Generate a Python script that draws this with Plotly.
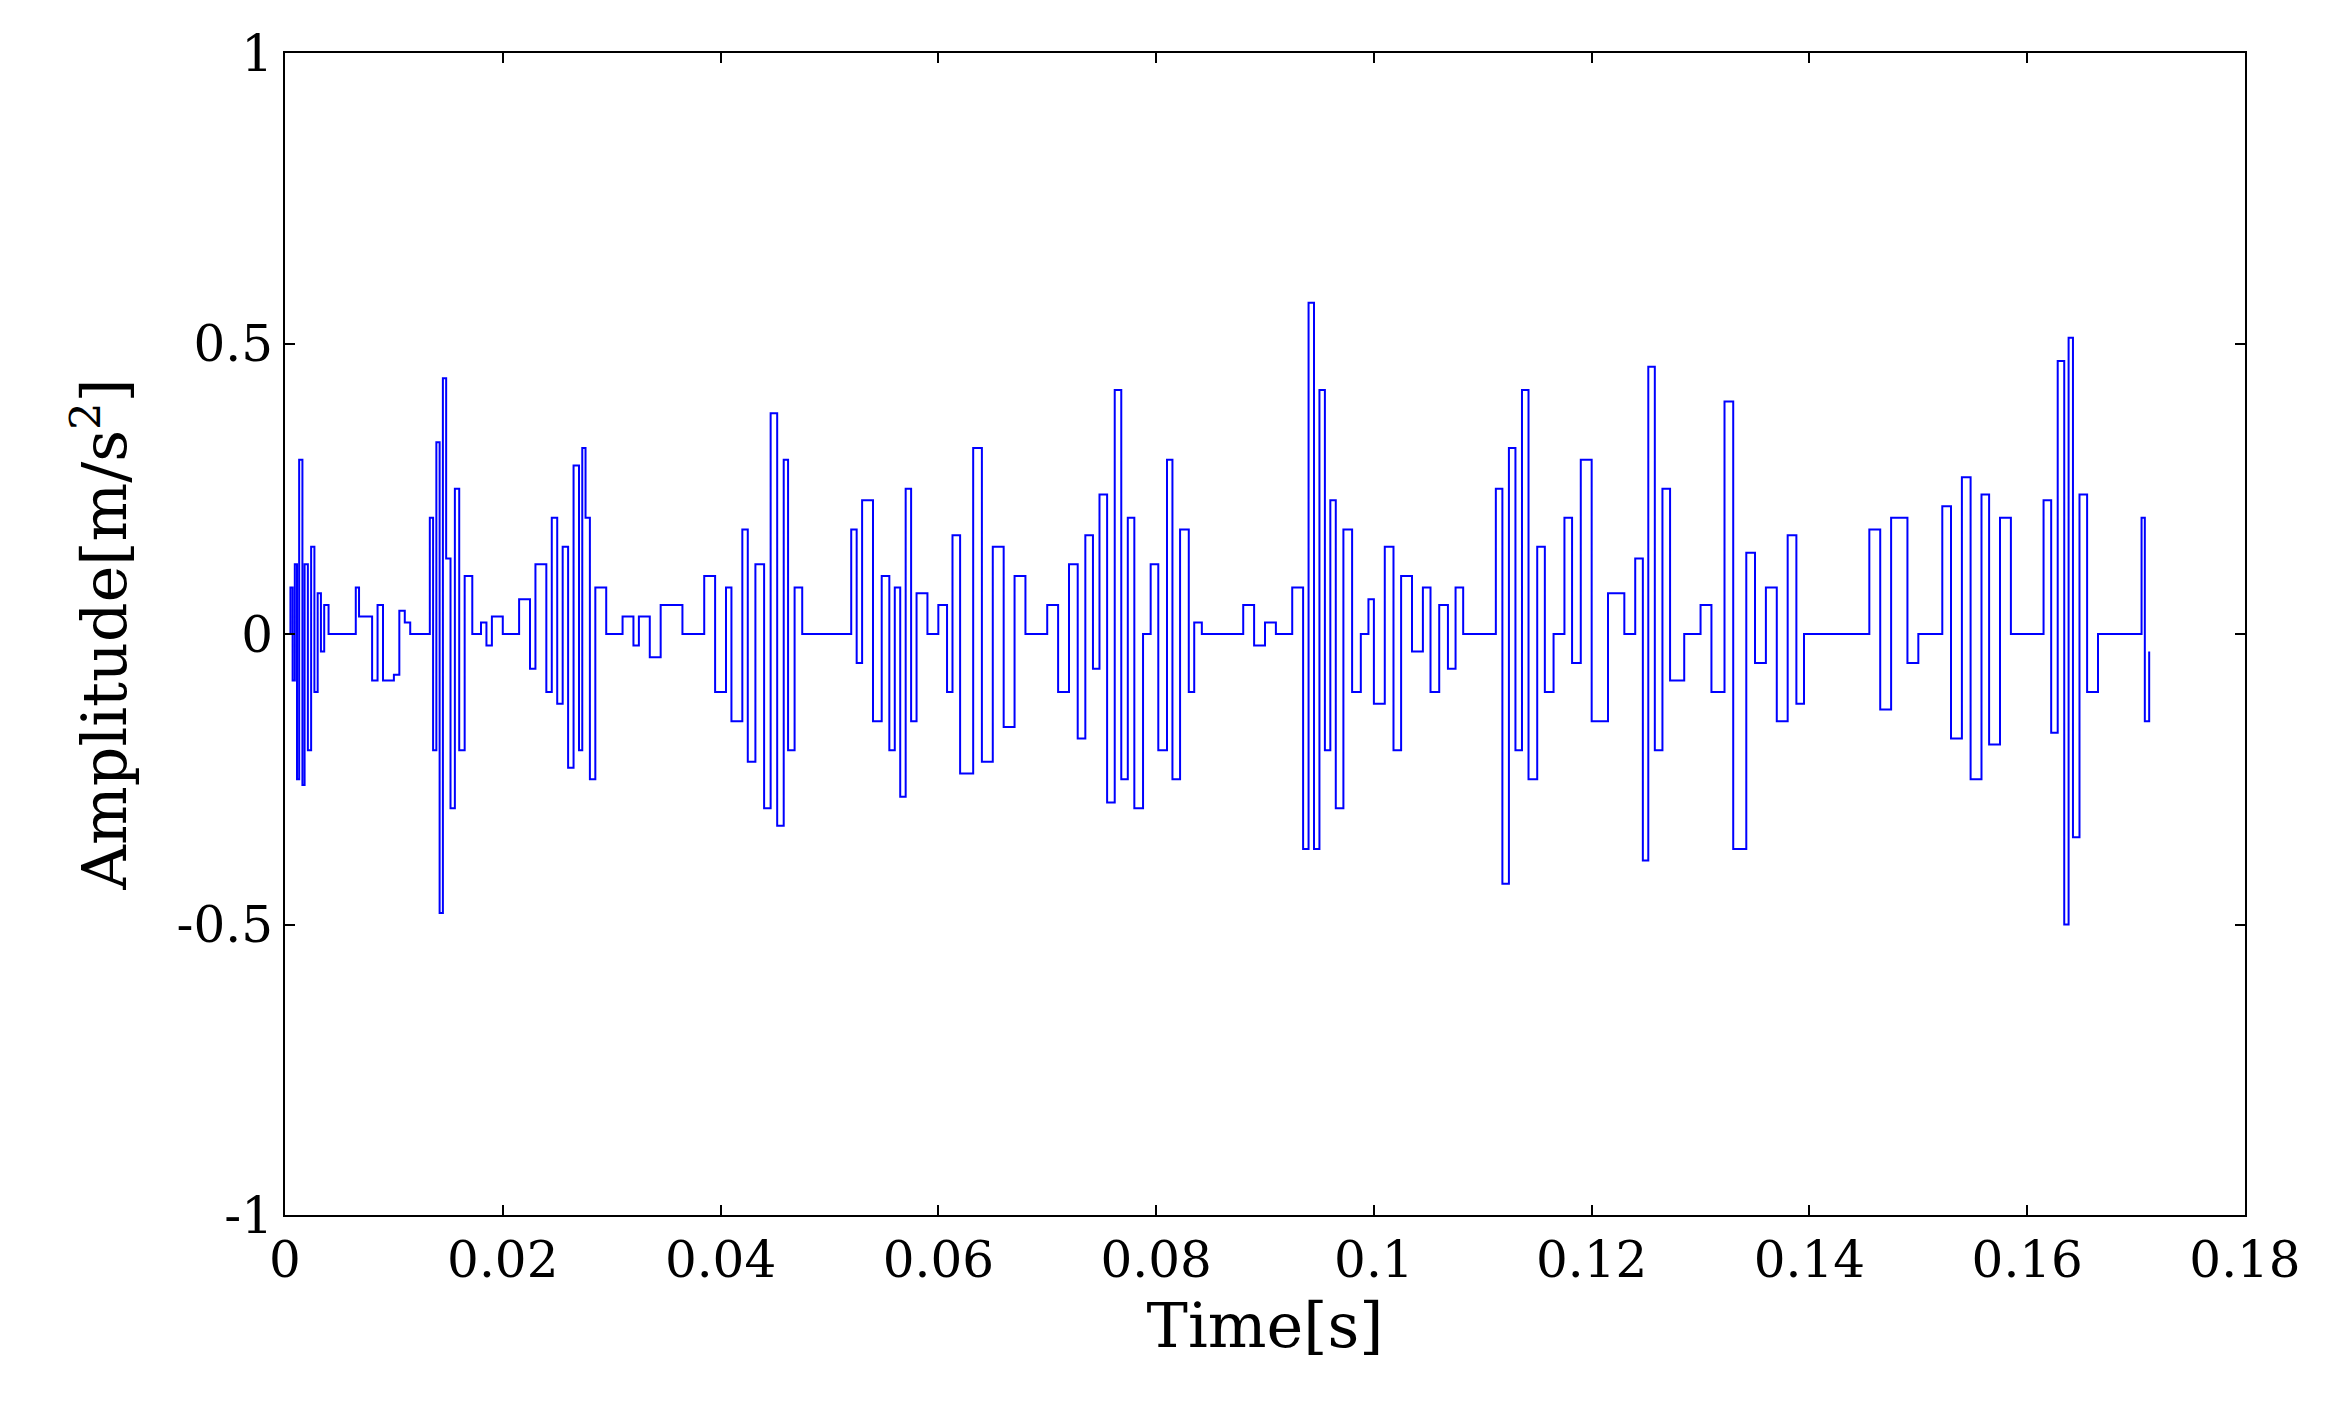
import plotly.graph_objects as go

time_s = [
    0.0000, 0.0005, 0.0007, 0.0009, 0.0011, 0.0013, 0.0016, 0.0018, 0.0021, 0.0024, 0.0027, 0.0030, 0.0033, 0.0036, 0.0040,
    0.0065, 0.0068, 0.0080, 0.0085, 0.0090, 0.0100, 0.0105, 0.0110, 0.0115,
    0.0133, 0.0136, 0.0139, 0.0142, 0.0145, 0.0148, 0.0152, 0.0156, 0.0160, 0.0165, 0.0172,
    0.0180, 0.0185, 0.0190, 0.0200,
    0.0215, 0.0225, 0.0230, 0.0240, 0.0245, 0.0250, 0.0255, 0.0260, 0.0265, 0.0270, 0.0273, 0.0276, 0.0280, 0.0285, 0.0295,
    0.0310, 0.0320, 0.0325, 0.0335, 0.0345, 0.0365,
    0.0385, 0.0395, 0.0405, 0.0410, 0.0420, 0.0425, 0.0432, 0.0440, 0.0446, 0.0452, 0.0458, 0.0462, 0.0468, 0.0475,
    0.0520, 0.0525, 0.0530, 0.0540, 0.0548, 0.0555, 0.0560, 0.0565, 0.0570, 0.0575, 0.0580, 0.0590,
    0.0600, 0.0608, 0.0613, 0.0620, 0.0632, 0.0640, 0.0650, 0.0660, 0.0670, 0.0680,
    0.0700, 0.0710, 0.0720, 0.0728, 0.0735, 0.0742, 0.0748, 0.0755, 0.0762, 0.0768, 0.0774, 0.0780, 0.0788,
    0.0795, 0.0802, 0.0810, 0.0815, 0.0822, 0.0830, 0.0835, 0.0842,
    0.0880, 0.0890, 0.0900, 0.0910,
    0.0925, 0.0935, 0.0940, 0.0945, 0.0950, 0.0955, 0.0960, 0.0965, 0.0972, 0.0980, 0.0988,
    0.0995, 0.1000, 0.1010, 0.1018, 0.1025, 0.1035, 0.1045, 0.1052, 0.1060, 0.1068, 0.1075, 0.1082,
    0.1112, 0.1118, 0.1124, 0.1130, 0.1136, 0.1142, 0.1150, 0.1157, 0.1165,
    0.1175, 0.1182, 0.1190, 0.1200, 0.1215, 0.1230,
    0.1240, 0.1247, 0.1252, 0.1258, 0.1265, 0.1272, 0.1285,
    0.1300, 0.1310, 0.1322, 0.1330, 0.1342, 0.1350, 0.1360, 0.1370, 0.1380, 0.1388, 0.1395,
    0.1455, 0.1465, 0.1475, 0.1490, 0.1500,
    0.1522, 0.1530, 0.1540, 0.1548, 0.1558, 0.1565, 0.1575, 0.1585,
    0.1615, 0.1622, 0.1628, 0.1634, 0.1638, 0.1642, 0.1648, 0.1655, 0.1665,
    0.1705, 0.1708, 0.1712,
]
amplitude = [
    0.00, 0.08, -0.08, 0.12, -0.25, 0.30, -0.26, 0.12, -0.20, 0.15, -0.10, 0.07, -0.03, 0.05, 0.00,
    0.08, 0.03, -0.08, 0.05, -0.08, -0.07, 0.04, 0.02, 0.00,
    0.20, -0.20, 0.33, -0.48, 0.44, 0.13, -0.30, 0.25, -0.20, 0.10, 0.00,
    0.02, -0.02, 0.03, 0.00,
    0.06, -0.06, 0.12, -0.10, 0.20, -0.12, 0.15, -0.23, 0.29, -0.20, 0.32, 0.20, -0.25, 0.08, 0.00,
    0.03, -0.02, 0.03, -0.04, 0.05, 0.00,
    0.10, -0.10, 0.08, -0.15, 0.18, -0.22, 0.12, -0.30, 0.38, -0.33, 0.30, -0.20, 0.08, 0.00,
    0.18, -0.05, 0.23, -0.15, 0.10, -0.20, 0.08, -0.28, 0.25, -0.15, 0.07, 0.00,
    0.05, -0.10, 0.17, -0.24, 0.32, -0.22, 0.15, -0.16, 0.10, 0.00,
    0.05, -0.10, 0.12, -0.18, 0.17, -0.06, 0.24, -0.29, 0.42, -0.25, 0.20, -0.30, 0.00,
    0.12, -0.20, 0.30, -0.25, 0.18, -0.10, 0.02, 0.00,
    0.05, -0.02, 0.02, 0.00,
    0.08, -0.37, 0.57, -0.37, 0.42, -0.20, 0.23, -0.30, 0.18, -0.10, 0.00,
    0.06, -0.12, 0.15, -0.20, 0.10, -0.03, 0.08, -0.10, 0.05, -0.06, 0.08, 0.00,
    0.25, -0.43, 0.32, -0.20, 0.42, -0.25, 0.15, -0.10, 0.00,
    0.20, -0.05, 0.30, -0.15, 0.07, 0.00,
    0.13, -0.39, 0.46, -0.20, 0.25, -0.08, 0.00,
    0.05, -0.10, 0.40, -0.37, 0.14, -0.05, 0.08, -0.15, 0.17, -0.12, 0.00,
    0.18, -0.13, 0.20, -0.05, 0.00,
    0.22, -0.18, 0.27, -0.25, 0.24, -0.19, 0.20, 0.00,
    0.23, -0.17, 0.47, -0.50, 0.51, -0.35, 0.24, -0.10, 0.00,
    0.20, -0.15, -0.03,
]

x_ticks = [0, 0.02, 0.04, 0.06, 0.08, 0.1, 0.12, 0.14, 0.16, 0.18]
x_labels = ["0", "0.02", "0.04", "0.06", "0.08", "0.1", "0.12", "0.14", "0.16", "0.18"]
y_ticks = [-1, -0.5, 0, 0.5, 1]
y_labels = ["-1", "-0.5", "0", "0.5", "1"]

fig = go.Figure()
fig.add_trace(go.Scatter(
    x=time_s, y=amplitude, mode="lines",
    line=dict(color="#0000ff", width=2, shape="hv"),
    showlegend=False,
))

axis_style = dict(
    showline=True, linecolor="black", linewidth=2, mirror="ticks",
    ticks="inside", ticklen=10, tickwidth=2, tickcolor="black",
    showgrid=False, zeroline=False,
    tickfont=dict(family="DejaVu Serif", size=50, color="black"),
)

fig.update_layout(
    width=2339, height=1423,
    paper_bgcolor="white", plot_bgcolor="white",
    margin=dict(l=277, r=102, t=45, b=216),
    font=dict(family="DejaVu Serif", size=52, color="black"),
    xaxis=dict(range=[0, 0.18], tickvals=x_ticks, ticktext=x_labels,
               title=dict(text="Time[s]", standoff=10), **axis_style),
    yaxis=dict(range=[-1, 1], tickvals=y_ticks, ticktext=y_labels,
               title=dict(text="Amplitude[m/s<sup>2</sup>]", standoff=30), **axis_style),
)

fig.write_html("out.html")
